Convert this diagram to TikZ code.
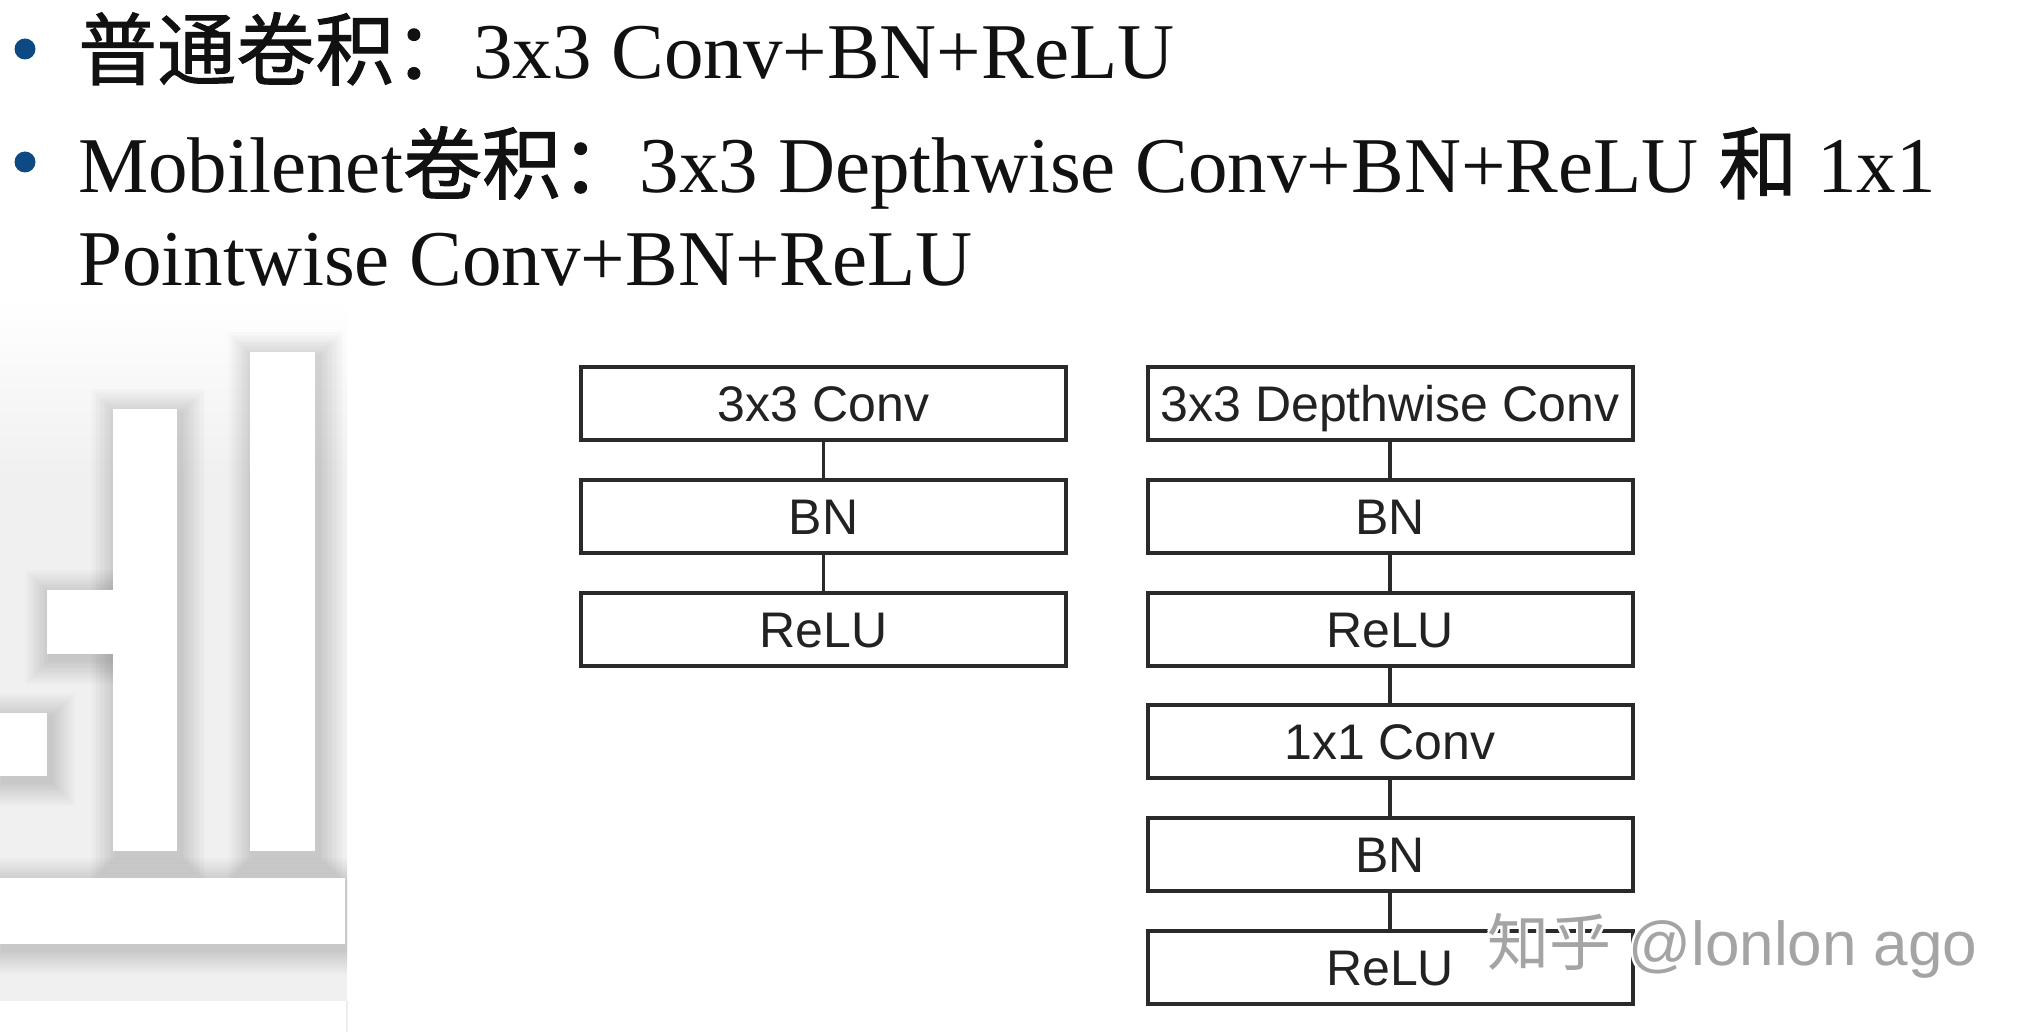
\documentclass[tikz,border=0pt]{standalone}
\usepackage{fontspec}
\setmainfont{Liberation Serif}
\newfontfamily\cjk[AutoFakeBold=1.2]{Noto Sans CJK SC}
\newfontfamily\boxfont{Liberation Sans}
\definecolor{titlecol}{HTML}{111111}
\definecolor{bulletcol}{HTML}{0D4A84}
\definecolor{boxline}{HTML}{2A2A2A}
\definecolor{boxtext}{HTML}{222222}
\definecolor{wmcol}{HTML}{A4A4A4}
\begin{document}
\begin{tikzpicture}[x=1pt,y=-1pt,
  layerbox/.style={draw=boxline,line width=4pt,fill=white,minimum width=485pt,
    minimum height=73pt,inner sep=0pt,text=boxtext,
    font=\boxfont\fontsize{50}{60}\selectfont,text height=36pt,text depth=0pt},
  link/.style={draw=boxline,line width=3.5pt},
  titleline/.style={anchor=base west,inner sep=0pt,text=titlecol,
    font=\fontsize{79}{90}\selectfont},
  bulletdot/.style={circle,fill=bulletcol,minimum size=21pt,inner sep=0pt},
  wmtext/.style={anchor=base west,inner sep=0pt,font=\boxfont\fontsize{62}{70}\selectfont},
]
\useasboundingbox (0,0) rectangle (2031,1032);
\fill[white] (0,0) rectangle (2031,1032);

% background decoration (left)
\begin{scope}
  \clip (0,300) rectangle (347,1001);
  \shade[top color=white,bottom color=black!6] (0,300) rectangle (347,480);
  \fill[black!6] (0,479) rectangle (347,1001);
  \foreach \a/\b/\c/\d in {250/352/315/851, 113/409/177/851, 47/590/113/654, 0/713/47/776, 0/878/345/944}{
    \foreach \k in {1,...,10}{
      \fill[black,opacity=0.016] (\a-2.5*\k+3,\b-2.5*\k+5) rectangle (\c+2.5*\k+3,\d+2.5*\k+5);
    }
  }
  \foreach \a/\b/\c/\d in {250/352/315/851, 113/409/177/851, 47/590/113/654, 0/713/47/776, 0/878/345/944}{
    \fill[white] (\a,\b) rectangle (\c,\d);
  }
\end{scope}
\draw[black!7,line width=1.5pt] (347,1001) -- (347,1032);

% title text
\node[bulletdot] (b1) at (25,49) {};
\node[titleline] (t1) at (78,79) {{\cjk\bfseries 普通卷积：}3x3 Conv+BN+ReLU};
\node[bulletdot] (b2) at (25,162) {};
\node[titleline] (t2) at (78,193) {Mobilenet{\cjk\bfseries 卷积：}3x3 Depthwise Conv+BN+ReLU {\cjk\bfseries 和} 1x1};
\node[titleline] (t3) at (78,285) {Pointwise Conv+BN+ReLU};

% left column
\node[layerbox] (l1) at (823.5,403.5) {3x3 Conv};
\node[layerbox] (l2) at (823.5,516.3) {BN};
\node[layerbox] (l3) at (823.5,629.1) {ReLU};
\draw[link] (l1) -- (l2);
\draw[link] (l2) -- (l3);

% right column
\node[layerbox] (r1) at (1390,403.5) {3x3 Depthwise Conv};
\node[layerbox] (r2) at (1390,516.3) {BN};
\node[layerbox] (r3) at (1390,629.1) {ReLU};
\node[layerbox] (r4) at (1390,741.9) {1x1 Conv};
\node[layerbox] (r5) at (1390,854.7) {BN};
\node[layerbox] (r6) at (1390,967.5) {ReLU};
\draw[link] (r1) -- (r2);
\draw[link] (r2) -- (r3);
\draw[link] (r3) -- (r4);
\draw[link] (r4) -- (r5);
\draw[link] (r5) -- (r6);

% watermark
\foreach \dx/\dy [count=\i] in {-2/0,2/0,0/-2,0/2,-2/-2,2/2,-2/2,2/-2}{
  \node[wmtext,text=white] (wmh\i) at (1487+\dx,965+\dy) {{\cjk 知乎} @lonlon ago};
}
\node[wmtext,text=wmcol] (wm) at (1487,965) {{\cjk 知乎} @lonlon ago};
\end{tikzpicture}
\end{document}
